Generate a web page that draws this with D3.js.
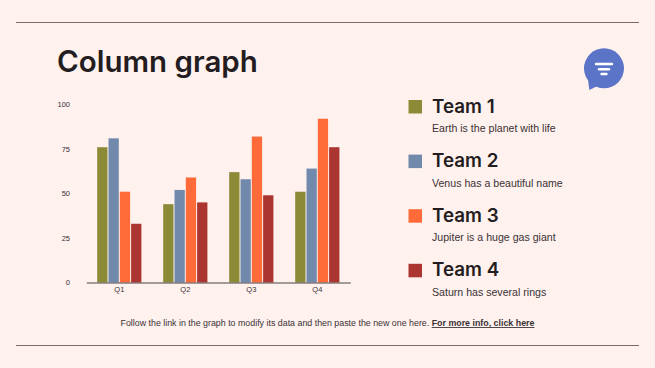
<!DOCTYPE html>
<html>
<head>
<meta charset="utf-8">
<script src="https://cdn.jsdelivr.net/npm/d3@7"></script>
<style>
  html, body { margin: 0; padding: 0; background: #fff1ed; }
  svg { display: block; }
</style>
</head>
<body>
<div id="chart"></div>
<script>
const quarters = ["Q1", "Q2", "Q3", "Q4"];
const teams = ["Team 1", "Team 2", "Team 3", "Team 4"];
const team1 = [76, 44, 62, 51];
const team2 = [81, 52, 58, 64];
const team3 = [51, 59, 82, 92];
const team4 = [33, 45, 49, 76];
const teamColors = ["#8b8b37", "#7189ab", "#ff6a39", "#ab3531"];
const teamNotes = [
    "Earth is the planet with life",
    "Venus has a beautiful name",
    "Jupiter is a huge gas giant",
    "Saturn has several rings"
];
const yTicks = [0, 25, 50, 75, 100];

const width = 655;
const height = 368;
const ink = "#231c20";
const rule = "#7d6a6c";

const svg = d3.select("#chart").append("svg")
    .attr("width", width)
    .attr("height", height);

svg.append("rect").attr("width", width).attr("height", height).attr("fill", "#fff1ed");

// Top and bottom rules
svg.selectAll(".rule")
    .data([22.5, 345.5])
    .enter()
    .append("line")
    .attr("class", "rule")
    .attr("x1", 16)
    .attr("x2", 639)
    .attr("y1", d => d)
    .attr("y2", d => d)
    .attr("stroke", rule)
    .attr("stroke-width", 1);

svg.append("text")
    .attr("x", 57)
    .attr("y", 72)
    .attr("fill", ink)
    .style("font-family", "Inter")
    .style("font-size", "29.5px")
    .style("font-weight", 600)
    .text("Column graph");

// Chart
const x0 = d3.scaleBand().domain(quarters).range([86.3, 350.3]).paddingInner(0.33).paddingOuter(0.165);
const x1 = d3.scaleBand().domain(teams).range([0, x0.bandwidth()]).paddingInner(0.09);
const y = d3.scaleLinear().domain([0, 100]).range([282.5, 104.5]);

const series = [team1, team2, team3, team4];

const groups = svg.selectAll(".series")
    .data(series)
    .enter()
    .append("g")
    .attr("class", "series")
    .attr("fill", (d, i) => teamColors[i]);

groups.each(function(values, i) {
    d3.select(this).selectAll("rect")
        .data(values)
        .enter()
        .append("rect")
        .attr("x", (d, j) => x0(quarters[j]) + x1(teams[i]))
        .attr("width", x1.bandwidth())
        .attr("y", d => y(d))
        .attr("height", d => y(0) - y(d));
});

const xAxis = svg.append("g")
    .attr("transform", `translate(0,${y(0)})`)
    .call(d3.axisBottom(x0).tickSize(0).tickPadding(4));
xAxis.select(".domain").attr("stroke", "#4a4044").attr("stroke-width", 1);

const yAxis = svg.append("g")
    .attr("transform", "translate(72,0)")
    .call(d3.axisLeft(y).tickValues(yTicks).tickSize(0).tickPadding(2));
yAxis.select(".domain").remove();

svg.selectAll(".tick text")
    .attr("fill", "#3a3236")
    .style("font-family", "Liberation Sans")
    .style("font-size", "7.5px");

// Legend
const legend = svg.selectAll(".legend")
    .data(teams)
    .enter()
    .append("g")
    .attr("class", "legend")
    .attr("transform", (d, i) => `translate(0,${i * 54.6})`);

legend.append("rect")
    .attr("x", 408.5)
    .attr("y", 100)
    .attr("width", 13.5)
    .attr("height", 13.5)
    .attr("fill", (d, i) => teamColors[i]);

legend.append("text")
    .attr("x", 432)
    .attr("y", 112.5)
    .attr("fill", ink)
    .style("font-family", "Inter")
    .style("font-size", "18.8px")
    .style("font-weight", 600)
    .text(d => d);

legend.append("text")
    .attr("x", 432)
    .attr("y", 132)
    .attr("fill", "#3a3236")
    .style("font-family", "Liberation Sans")
    .style("font-size", "10.6px")
    .text((d, i) => teamNotes[i]);

// Footer
const footer = svg.append("text")
    .attr("x", 120.5)
    .attr("y", 326)
    .attr("fill", "#3a3236")
    .style("font-family", "Liberation Sans")
    .style("font-size", "8.85px");
footer.append("tspan").text("Follow the link in the graph to modify its data and then paste the new one here. ");
footer.append("tspan")
    .style("font-weight", 700)
    .style("text-decoration", "underline")
    .text("For more info, click here");

// Speech bubble icon
const icon = svg.append("g").attr("transform", "translate(604,68.3)");
icon.append("circle").attr("r", 20).attr("fill", "#5b74c8");
icon.append("path").attr("d", "M-16,11 L-14.7,21.7 L-6,17.5 Z").attr("fill", "#5b74c8");
icon.selectAll(".bar")
    .data([[-8, 8, -4.3], [-5, 5, 0.9], [-2.5, 2.5, 5.7]])
    .enter()
    .append("line")
    .attr("x1", d => d[0])
    .attr("x2", d => d[1])
    .attr("y1", d => d[2])
    .attr("y2", d => d[2])
    .attr("stroke", "#ffffff")
    .attr("stroke-width", 2.4)
    .attr("stroke-linecap", "round");
</script>
</body>
</html>
